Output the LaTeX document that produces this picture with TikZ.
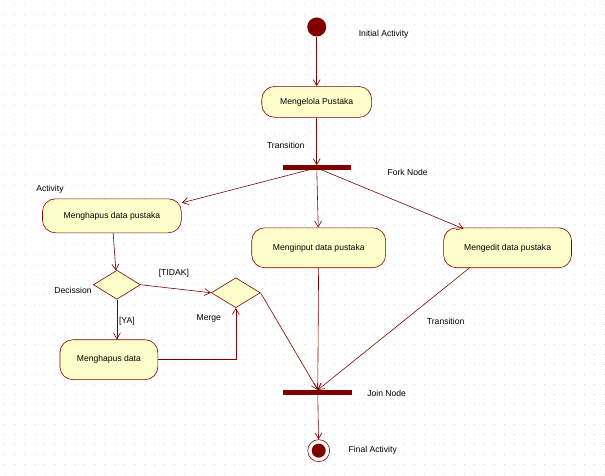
\documentclass[tikz,border=0pt]{standalone}
\usepackage{fontspec}
\setmainfont{Liberation Sans}
\usetikzlibrary{shapes.geometric,arrows.meta}
\definecolor{dred}{RGB}{128,0,0}
\definecolor{act}{RGB}{255,255,204}
\begin{document}
\begin{tikzpicture}[x=1pt,y=-1pt,font=\fontsize{8.6}{10}\selectfont,
  actbox/.style={draw=dred,fill=act,rounded corners=13pt,minimum height=34pt,inner sep=2pt,line width=0.6pt},
  dia/.style={draw=dred,fill=act,diamond,inner sep=0pt,line width=0.6pt},
  bar/.style={fill=dred,draw=none,minimum height=5pt,inner sep=0pt},
  flow/.style={draw=dred,line width=0.6pt,-{Straight Barb[length=6pt,width=7pt]}},
  lbl/.style={inner sep=1pt}]
\fill[white] (0,0) rectangle (605,475);
\foreach \x in {5,15,...,605}{\foreach \y in {5,15,...,475}{\fill[gray!45] (\x,\y) circle (0.5);}}
\node[circle,fill=dred,minimum size=19pt,inner sep=0pt] (init) at (317,27) {};
\node[lbl] at (384,34) {Initial Activity};
\node[actbox,minimum width=110pt,minimum height=31pt] (mp) at (317,102) {Mengelola Pustaka};
\node[lbl] at (286,146) {Transition};
\node[bar,minimum width=68pt] (fork) at (317,168) {};
\node[lbl] at (408,173) {Fork Node};
\node[lbl] at (50,189) {Activity};
\node[actbox,minimum width=139pt] (hp) at (112,216) {Menghapus data pustaka};
\node[actbox,minimum width=134pt,minimum height=40pt] (in) at (319,248) {Menginput data pustaka};
\node[actbox,minimum width=128pt,minimum height=40pt] (ed) at (508,248) {Mengedit data pustaka};
\node[dia,minimum width=47pt,minimum height=29pt] (dec) at (117,285) {};
\node[lbl] at (73,291) {Decission};
\node[dia,minimum width=49pt,minimum height=30pt] (mer) at (236,293) {};
\node[lbl] at (209,319) {Merge};
\node[lbl] at (174,274) {[TIDAK]};
\node[lbl] at (127,322) {[YA]};
\node[actbox,minimum width=98pt,minimum height=40pt] (hd) at (109,360) {Menghapus data};
\node[lbl] at (446,322) {Transition};
\node[bar,minimum width=69pt] (join) at (318,393) {};
\node[lbl] at (387,394) {Join Node};
\node[circle,draw=dred,line width=0.6pt,fill=white,minimum size=22pt,inner sep=0pt] (fin) at (319,451) {};
\fill[dred] (fin.center) circle (7);
\node[lbl] at (373,451) {Final Activity};
\coordinate (c1) at (182,203);
\coordinate (c2) at (464,229);
\coordinate (c3) at (470,268);
\draw[flow] (init) -- (mp);
\draw[flow] (mp) -- (fork);
\draw[flow] (fork.center) -- (c1);
\draw[flow] (fork) -- (in);
\draw[flow] (fork.center) -- (c2);
\draw[flow] (hp) -- (dec);
\draw[flow] (dec.east) -- (mer.west);
\draw[flow] (dec.south) -- (hd.north-|dec.south);
\draw[flow] (hd.east) -| (mer.south);
\draw[flow] (mer.east) -- (join.north);
\draw[flow] (in) -- (join);
\draw[flow] (c3) -- (join.north);
\draw[flow] (join) -- (fin);
\end{tikzpicture}
\end{document}
